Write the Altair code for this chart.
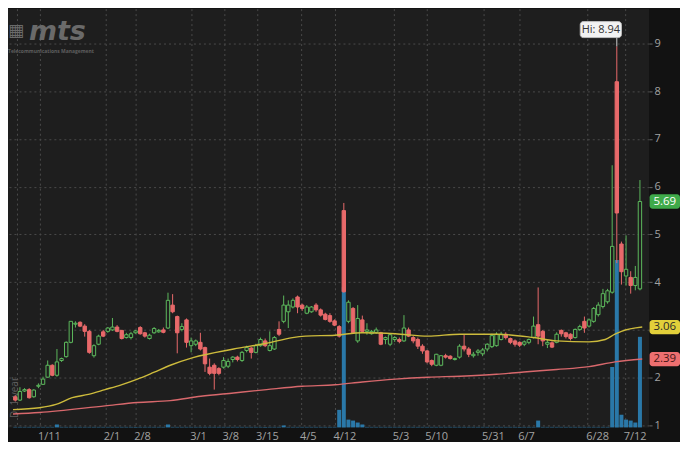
import altair as alt
import pandas as pd

# ---------------- data ----------------
opens = [
    1.60, 1.53, 1.72, 1.75, 1.60, 1.82, 1.86, 2.01, 2.26, 2.05,
    2.36, 2.44, 2.74, 3.12, 3.16, 3.08, 2.97, 2.46, 2.70, 2.96,
    2.97, 3.00, 3.06, 2.99, 2.84, 2.84, 2.94, 3.05, 2.94, 2.82,
    2.94, 2.96, 3.00, 3.04, 3.52, 3.28, 3.01, 3.21, 2.67, 2.70,
    2.74, 2.63, 2.22, 2.26, 2.19, 2.22, 2.24, 2.38, 2.43, 2.36,
    2.57, 2.62, 2.53, 2.67, 2.77, 2.57, 2.60, 3.01, 3.18, 3.38,
    3.48, 3.69, 3.52, 3.35, 3.38, 3.52, 3.42, 3.33, 3.30, 3.19,
    3.07, 5.50, 3.18, 3.45, 2.77, 3.21, 2.97, 2.92, 2.95, 2.94,
    2.80, 2.70, 2.80, 2.80, 2.77, 3.00, 2.84, 2.80, 2.66, 2.56,
    2.36, 2.26, 2.26, 2.46, 2.45, 2.38, 2.43, 2.66, 2.60, 2.46,
    2.53, 2.50, 2.60, 2.65, 2.67, 2.80, 2.91, 2.82, 2.77, 2.74,
    2.70, 2.74, 2.84, 3.11, 2.97, 2.70, 2.73, 2.74, 2.99, 2.94,
    2.91, 2.84, 3.01, 3.18, 3.08, 3.18, 3.32, 3.49, 3.59, 3.79,
    8.20, 4.80, 4.13, 4.10, 3.93, 3.86,
]
highs = [
    1.63, 1.80, 1.78, 1.78, 1.76, 1.88, 2.02, 2.36, 2.28, 2.60,
    2.42, 2.76, 3.18, 3.18, 3.18, 3.12, 3.00, 2.70, 2.90, 3.00,
    3.06, 3.25, 3.10, 3.00, 2.94, 2.96, 3.00, 3.08, 2.96, 2.92,
    3.06, 3.02, 3.05, 3.78, 3.75, 3.30, 3.14, 3.24, 2.84, 2.80,
    2.94, 2.65, 2.40, 2.30, 2.22, 2.43, 2.40, 2.45, 2.46, 2.56,
    2.67, 2.64, 2.71, 2.84, 2.82, 2.97, 2.87, 3.18, 3.72, 3.62,
    3.66, 3.72, 3.55, 3.52, 3.50, 3.56, 3.45, 3.36, 3.35, 3.22,
    3.10, 5.66, 3.62, 3.48, 3.52, 3.30, 3.14, 3.00, 3.05, 2.96,
    2.86, 2.93, 2.87, 2.84, 3.31, 3.05, 2.87, 2.84, 2.70, 2.58,
    2.38, 2.50, 2.47, 2.50, 2.47, 2.42, 2.70, 2.90, 2.64, 2.54,
    2.60, 2.62, 2.72, 2.92, 2.95, 2.96, 2.95, 2.84, 2.80, 2.76,
    2.78, 2.82, 3.28, 3.89, 3.00, 2.80, 2.76, 2.95, 3.01, 2.96,
    2.93, 3.03, 3.11, 3.28, 3.24, 3.48, 3.58, 3.86, 3.86, 6.45,
    8.94, 4.85, 4.98, 4.23, 4.34, 6.14,
]
lows = [
    1.50, 1.51, 1.70, 1.56, 1.58, 1.78, 1.85, 2.00, 2.03, 2.02,
    2.33, 2.42, 2.72, 3.05, 3.06, 2.86, 2.50, 2.42, 2.68, 2.85,
    2.94, 2.98, 2.95, 2.80, 2.82, 2.80, 2.92, 2.90, 2.84, 2.80,
    2.92, 2.94, 2.93, 3.02, 3.35, 2.51, 2.97, 2.63, 2.53, 2.66,
    2.57, 2.12, 2.05, 1.75, 2.05, 2.19, 2.20, 2.32, 2.34, 2.33,
    2.53, 2.40, 2.51, 2.65, 2.64, 2.55, 2.58, 2.87, 3.14, 3.04,
    3.45, 3.35, 3.40, 3.33, 3.36, 3.38, 3.28, 3.20, 3.15, 3.08,
    2.84, 3.78, 3.14, 2.92, 2.73, 2.95, 2.90, 2.90, 2.92, 2.68,
    2.70, 2.66, 2.75, 2.72, 2.75, 2.85, 2.72, 2.60, 2.50, 2.30,
    2.24, 2.24, 2.24, 2.40, 2.38, 2.36, 2.40, 2.55, 2.43, 2.42,
    2.46, 2.45, 2.55, 2.62, 2.65, 2.78, 2.80, 2.70, 2.65, 2.64,
    2.66, 2.70, 2.82, 2.70, 2.66, 2.62, 2.62, 2.72, 2.86, 2.82,
    2.78, 2.82, 2.98, 2.94, 3.05, 3.15, 3.28, 3.45, 3.55, 3.76,
    4.40, 3.95, 3.93, 3.76, 3.83, 3.83,
]
closes = [
    1.53, 1.71, 1.75, 1.58, 1.74, 1.84, 1.97, 2.26, 2.05, 2.33,
    2.40, 2.74, 3.18, 3.14, 3.08, 2.97, 2.53, 2.67, 2.87, 2.87,
    3.04, 3.06, 2.97, 2.82, 2.90, 2.92, 2.98, 2.92, 2.87, 2.89,
    3.03, 2.99, 2.95, 3.62, 3.38, 2.94, 3.07, 2.74, 2.77, 2.77,
    2.60, 2.29, 2.09, 2.09, 2.09, 2.36, 2.34, 2.43, 2.38, 2.53,
    2.63, 2.53, 2.67, 2.80, 2.67, 2.67, 2.84, 2.91, 3.52, 3.52,
    3.62, 3.48, 3.45, 3.48, 3.48, 3.42, 3.31, 3.22, 3.18, 3.10,
    2.87, 3.80, 3.58, 2.94, 3.24, 2.97, 3.00, 2.97, 3.00, 2.70,
    2.84, 2.90, 2.84, 2.76, 3.04, 2.87, 2.77, 2.66, 2.56, 2.33,
    2.28, 2.49, 2.46, 2.43, 2.40, 2.40, 2.66, 2.60, 2.49, 2.49,
    2.56, 2.58, 2.70, 2.88, 2.91, 2.91, 2.84, 2.74, 2.70, 2.68,
    2.75, 2.80, 3.08, 2.87, 2.77, 2.74, 2.64, 2.91, 2.92, 2.86,
    2.82, 3.01, 3.07, 3.04, 3.21, 3.45, 3.52, 3.76, 3.82, 4.75,
    5.45, 4.22, 4.27, 3.93, 4.10, 5.69,
]
volumes = [  # millions (approx.)
    0.05, 0.05, 0.05, 0.05, 0.05, 0.05, 0.05, 0.05, 0.05, 0.30,
    0.05, 0.05, 0.05, 0.05, 0.05, 0.05, 0.05, 0.05, 0.05, 0.05,
    0.05, 0.05, 0.05, 0.05, 0.05, 0.05, 0.05, 0.05, 0.05, 0.05,
    0.05, 0.05, 0.05, 0.30, 0.05, 0.05, 0.05, 0.05, 0.05, 0.05,
    0.05, 0.05, 0.05, 0.05, 0.05, 0.05, 0.05, 0.05, 0.05, 0.05,
    0.05, 0.05, 0.05, 0.05, 0.05, 0.05, 0.05, 0.05, 0.20, 0.05,
    0.05, 0.05, 0.05, 0.05, 0.05, 0.05, 0.05, 0.05, 0.05, 0.05,
    1.80, 14.40, 0.80, 0.70, 0.50, 0.30, 0.05, 0.05, 0.05, 0.05,
    0.05, 0.05, 0.05, 0.05, 0.05, 0.05, 0.05, 0.05, 0.05, 0.05,
    0.05, 0.05, 0.05, 0.05, 0.05, 0.05, 0.05, 0.05, 0.05, 0.05,
    0.05, 0.05, 0.05, 0.05, 0.05, 0.05, 0.05, 0.05, 0.05, 0.05,
    0.05, 0.05, 0.05, 0.70, 0.05, 0.05, 0.05, 0.05, 0.05, 0.05,
    0.05, 0.05, 0.05, 0.05, 0.05, 0.05, 0.05, 0.05, 0.05, 6.20,
    17.20, 1.30, 0.80, 0.70, 0.50, 9.30,
]

# moving averages (bar index, value)
ma50_idx = [-0.5, 5.2, 8.8, 12.3, 15.8, 19.4, 22.9, 26.4, 29.9, 33.5, 38.4, 47.2,
            54.3, 59.9, 62.7, 69.1, 75.0, 82.1, 89.2, 96.1, 104.0, 112.0, 117.0,
            124.0, 127.5, 129.6, 131.0, 135.5]
ma50_val = [1.33, 1.37, 1.44, 1.58, 1.65, 1.75, 1.85, 1.97, 2.11, 2.26, 2.42, 2.60,
            2.72, 2.84, 2.87, 2.89, 2.94, 2.92, 2.87, 2.91, 2.91, 2.84, 2.77,
            2.75, 2.80, 2.91, 2.97, 3.06]
ma200_idx = [-0.5, 5.2, 19.4, 26.4, 33.5, 40.1, 47.2, 54.3, 62.0, 69.1, 75.0, 82.1,
             89.2, 96.1, 104.0, 109.9, 117.0, 124.0, 129.6, 135.5]
ma200_val = [1.24, 1.27, 1.41, 1.48, 1.52, 1.61, 1.68, 1.75, 1.82, 1.85, 1.91, 1.97,
             2.01, 2.03, 2.07, 2.12, 2.17, 2.23, 2.33, 2.39]

tick_pos = [0.35, 5.23, 19.44, 26.02, 38.11, 45.11, 52.32, 61.87, 69.08, 81.9,
            88.9, 101.2, 109.0, 123.7, 131.8]
tick_labels = ["", "1/11", "2/1", "2/8", "3/1", "3/8", "3/15", "4/5", "4/12", "5/3",
               "5/10", "5/31", "6/7", "6/28", "7/12"]
y_ticks = [1, 2, 3, 4, 5, 6, 7, 8, 9]

last_close = 5.69
ma50_last = 3.06
ma200_last = 2.39
hi_idx = 130
hi_val = 8.94

# ---------------- styling ----------------
W, H = 643, 420
BG = "#121212"
PLOT = "#1e1e1e"
GREEN = "#5cb85c"
RED = "#e8696a"
YEL = "#cdbb3c"
MARED = "#d8686c"
VOLC = "#2a78a8"
GRID = "#4a4a4a"
TXT = "#a3a3a3"
FONT = "Open Sans"

xs = alt.Scale(domain=[-0.5, 135.9], nice=False, zero=False)
ys = alt.Scale(domain=[0.958, 9.731], nice=False, zero=False)
vs = alt.Scale(domain=[0, 43], nice=False, zero=True)

label_expr = ("[" + ",".join("'%s'" % t for t in tick_labels) + "][indexof(["
              + ",".join(str(p) for p in tick_pos) + "], datum.value)]")

x_axis = alt.Axis(values=tick_pos, labelExpr=label_expr, grid=True, gridColor=GRID,
                  gridDash=[2, 3], gridWidth=1, ticks=False, domain=False,
                  labelAlign="left", labelPadding=3, labelOffset=-2, labelColor=TXT,
                  labelFont=FONT, labelFontSize=11, labelOverlap=False, title=None)
# the "3" label sits under the 3.06 badge in the reference, so it is left blank
y_axis = alt.Axis(orient="right", values=y_ticks, format="d", grid=True, gridColor=GRID,
                  gridDash=[2, 3], gridWidth=1, tickSize=3, tickColor="#666666",
                  domain=False, labelPadding=2, labelColor=TXT, labelFont=FONT,
                  labelFontSize=11, title=None,
                  labelExpr="datum.value == 3 ? '' : datum.label")

df = pd.DataFrame({"i": list(range(len(opens))), "open": opens, "high": highs,
                   "low": lows, "close": closes, "vol": volumes})
df["dir"] = ["up" if c >= o else "down" for o, c in zip(opens, closes)]

X = alt.X("i:Q", scale=xs, axis=x_axis)
dir_dom = ["up", "down"]

# watermark / side text
side = alt.Chart(pd.DataFrame({"t": ["D, 1 year"]})).mark_text(
    angle=270, fontSize=10, color="#5e5e5e", font=FONT, align="center", baseline="middle"
).encode(x=alt.value(7), y=alt.value(390), text="t:N")
logo_icon = alt.Chart(pd.DataFrame({"t": ["▦"]})).mark_text(
    fontSize=17, color="#6a6a6a", font="DejaVu Sans", align="left", baseline="middle"
).encode(x=alt.value(0), y=alt.value(22), text="t:N")
logo = alt.Chart(pd.DataFrame({"t": ["mts"]})).mark_text(
    fontSize=27, fontWeight="bold", fontStyle="italic", color="#6a6a6a",
    font="DejaVu Sans", align="left", baseline="alphabetic"
).encode(x=alt.value(21), y=alt.value(31), text="t:N")
logo_sub = alt.Chart(pd.DataFrame({"t": ["Telecommunications Management"]})).mark_text(
    fontSize=5, fontWeight="bold", color="#5e5e5e", font=FONT, align="left", baseline="middle"
).encode(x=alt.value(0), y=alt.value(42), text="t:N")

wick = alt.Chart(df).mark_rule(strokeWidth=1).encode(
    x=X, y=alt.Y("low:Q", scale=ys, axis=y_axis), y2="high:Q",
    color=alt.Color("dir:N", scale=alt.Scale(domain=dir_dom, range=[GREEN, RED]), legend=None),
)
body = alt.Chart(df).mark_bar(size=3.4, strokeWidth=1, orient="vertical").encode(
    x=X, y=alt.Y("open:Q", scale=ys, axis=y_axis), y2="close:Q",
    fill=alt.Fill("dir:N", scale=alt.Scale(domain=dir_dom, range=[PLOT, RED]), legend=None),
    stroke=alt.Stroke("dir:N", scale=alt.Scale(domain=dir_dom, range=[GREEN, RED]), legend=None),
)
ma50 = alt.Chart(pd.DataFrame({"i": ma50_idx, "v": ma50_val})).mark_line(
    color=YEL, strokeWidth=1.4, interpolate="monotone"
).encode(x=X, y=alt.Y("v:Q", scale=ys, axis=y_axis))
ma200 = alt.Chart(pd.DataFrame({"i": ma200_idx, "v": ma200_val})).mark_line(
    color=MARED, strokeWidth=1.4, interpolate="monotone"
).encode(x=X, y=alt.Y("v:Q", scale=ys, axis=y_axis))

badges = pd.DataFrame({
    "val": [last_close, ma50_last, ma200_last],
    "label": ["%.2f" % v for v in [last_close, ma50_last, ma200_last]],
    "bg": ["#3faa4a", "#e2cf3a", "#ee6f70"],
    "fg": ["#ffffff", "#2a2a2a", "#4a1616"],
})
badge_rect = alt.Chart(badges).mark_rect(cornerRadius=3).transform_calculate(
    y1="datum.val - 0.15", y2="datum.val + 0.15"
).encode(
    x=alt.value(W + 0.5), x2=alt.value(W + 31),
    y=alt.Y("y1:Q", scale=ys, axis=y_axis), y2="y2:Q",
    color=alt.Color("bg:N", scale=None),
)
badge_text = alt.Chart(badges).mark_text(fontSize=11.5, font=FONT, align="center",
                                         baseline="middle").encode(
    x=alt.value(W + 15.75), y=alt.Y("val:Q", scale=ys, axis=y_axis),
    text="label:N", color=alt.Color("fg:N", scale=None),
)

hi_df = pd.DataFrame({"i": [hi_idx], "v": [hi_val], "t": ["Hi: %.2f" % hi_val]})
hi_ptr = alt.Chart(hi_df).mark_rule(color="#cfcfcf", strokeWidth=1).transform_calculate(
    v2="datum.v + 0.19"
).encode(x=X, y=alt.Y("v:Q", scale=ys, axis=y_axis), y2="v2:Q")
hi_rect = alt.Chart(hi_df).mark_rect(cornerRadius=3, fill="#f2f2f2", stroke="#bdbdbd",
                                     strokeWidth=1).transform_calculate(
    x1="datum.i - 7.9", x2="datum.i + 1.0", y1="datum.v + 0.185", y2="datum.v + 0.52"
).encode(
    x=alt.X("x1:Q", scale=xs, axis=x_axis), x2="x2:Q",
    y=alt.Y("y1:Q", scale=ys, axis=y_axis), y2="y2:Q",
)
hi_text = alt.Chart(hi_df).mark_text(fontSize=11, font=FONT, color="#333333",
                                     align="center", baseline="middle").transform_calculate(
    tx="datum.i - 3.45", ty="datum.v + 0.352"
).encode(
    x=alt.X("tx:Q", scale=xs, axis=x_axis), y=alt.Y("ty:Q", scale=ys, axis=y_axis),
    text="t:N",
)

price = alt.layer(side, logo_icon, logo, logo_sub, wick, body, ma200, ma50,
                  badge_rect, badge_text, hi_ptr, hi_rect, hi_text)

volume = alt.Chart(df).mark_bar(size=4, color=VOLC, orient="vertical").encode(
    x=X, y=alt.Y("vol:Q", scale=vs, axis=None)
)

chart = alt.layer(volume, price).resolve_scale(y="independent").properties(
    width=W, height=H, background=BG, padding=0
).configure_view(fill=PLOT, stroke=None)

chart.save("out.html", embed_options={"renderer": "svg", "actions": False})
